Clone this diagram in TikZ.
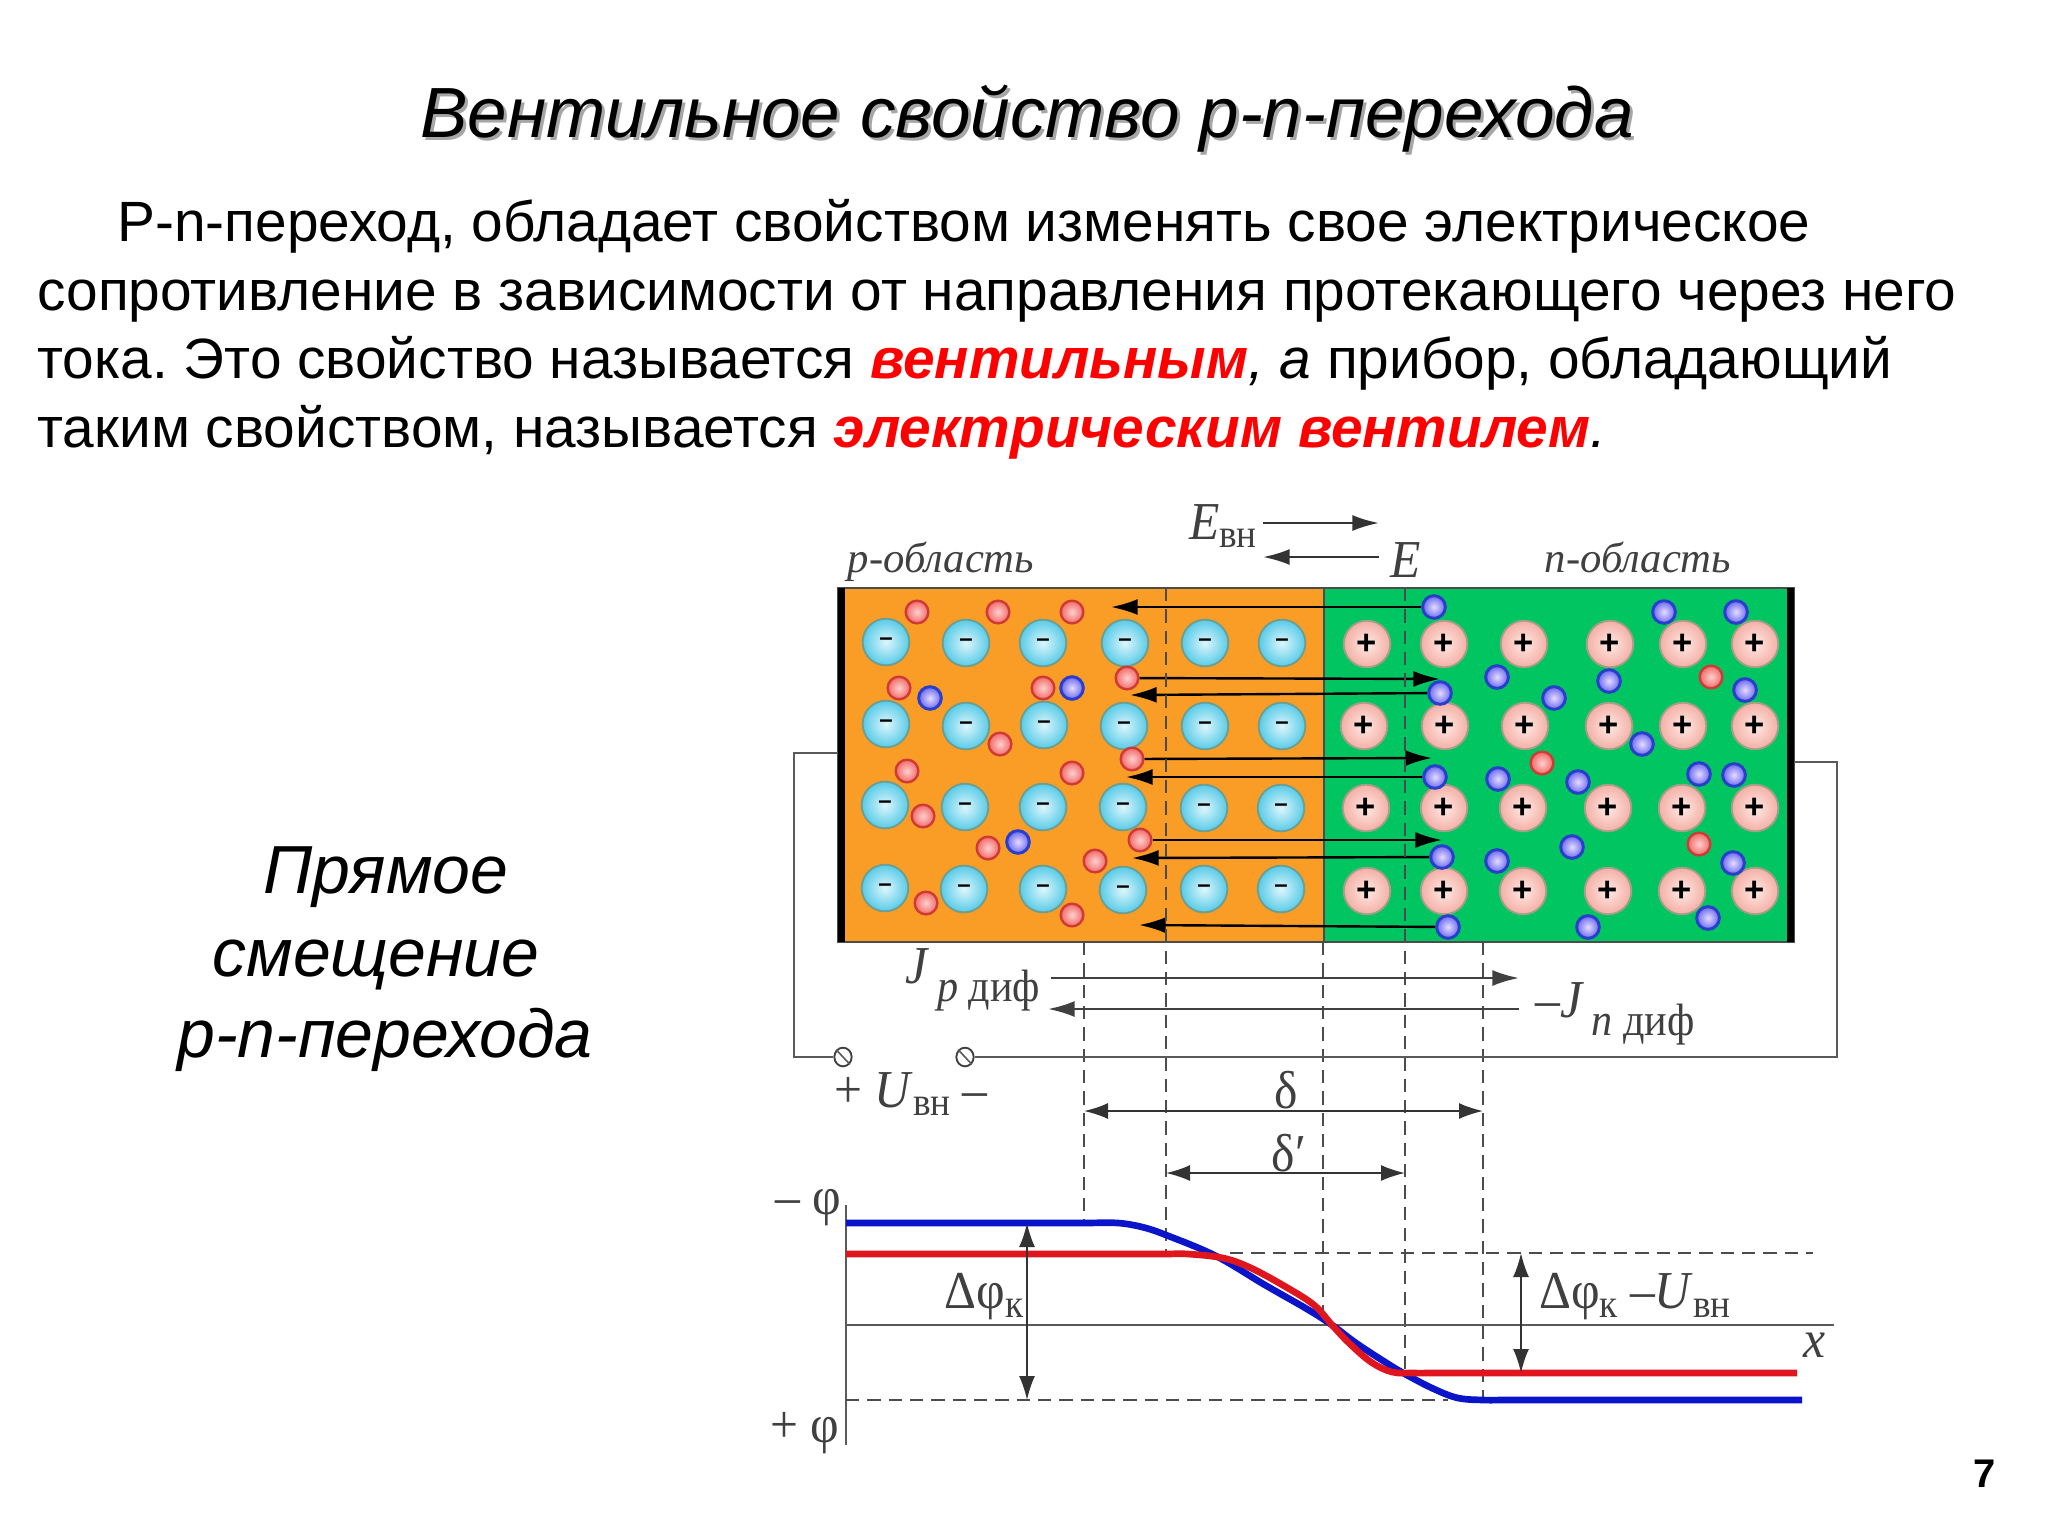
\documentclass[tikz,border=0pt]{standalone}
\usepackage{fontspec}
\setmainfont{Liberation Sans}
\newfontfamily\labfont[FakeStretch=0.93]{Liberation Serif}
\usetikzlibrary{arrows.meta,shapes.geometric}
\definecolor{porange}{HTML}{F99D26}
\definecolor{ngreen}{HTML}{00C560}
\definecolor{redtxt}{HTML}{FF0000}
\definecolor{redline}{HTML}{E0161E}
\definecolor{blueline}{HTML}{0A14C8}
\definecolor{wirecol}{HTML}{5A5A5A}
\definecolor{negedge}{HTML}{6E9E90}
\definecolor{negin}{HTML}{DDF6FB}
\definecolor{negout}{HTML}{58CBE8}
\definecolor{posedge}{HTML}{A0A088}
\definecolor{posin}{HTML}{FFEAE4}
\definecolor{posout}{HTML}{F3AFA6}
\definecolor{holeedge}{HTML}{D03A34}
\definecolor{holein}{HTML}{FFD0CE}
\definecolor{holeout}{HTML}{F06A68}
\definecolor{elecedge}{HTML}{2A3ECC}
\definecolor{elecin}{HTML}{E4DCFF}
\definecolor{elecout}{HTML}{6A68F0}
\newcommand{\sbs}[1]{\raisebox{-0.35ex}{\fontsize{15}{15}\selectfont #1}}
\newcommand{\jsb}[2]{\raisebox{-0.75ex}{\fontsize{17}{17}\selectfont\,\textit{#1} #2}}
\frenchspacing
\begin{document}
\begin{tikzpicture}[x=0.375pt, y=-0.375pt,
	negion/.style = {draw=negedge, line width=0.7pt, circle, minimum size=17.5pt, inner sep=0pt, inner color=negin, outer color=negout, font=\bfseries\fontsize{9}{9}\selectfont},
	posion/.style = {draw=posedge, line width=0.7pt, circle, minimum size=17.5pt, inner sep=0pt, inner color=posin, outer color=posout, font=\bfseries\fontsize{13}{13}\selectfont},
	hole/.style = {draw=holeedge, line width=0.9pt, circle, minimum size=8.5pt, inner sep=0pt, inner color=holein, outer color=holeout},
	elec/.style = {draw=elecedge, line width=1.1pt, circle, minimum size=8.5pt, inner sep=0pt, inner color=elecin, outer color=elecout},
	flow/.style = {line width=0.9pt, -{Latex[length=10pt,width=6pt]}},
	wire/.style = {draw=wirecol, line width=0.9pt},
	guide/.style = {draw=black!70, line width=0.5pt, dash pattern=on 5pt off 3pt},
	dim/.style = {draw=black!80, line width=0.7pt, {Latex[length=9pt,width=6pt]}-{Latex[length=9pt,width=6pt]}},
	term/.style = {draw=black!75, line width=0.7pt, ellipse, minimum width=6.5pt, minimum height=7pt, inner sep=0pt},
	lab/.style = {inner sep=0pt, text=black!75, font=\labfont\fontsize{20}{20}\selectfont},
	obl/.style = {inner sep=0pt, text=black!75, font=\rmfamily\fontspec{Liberation Serif}\itshape\fontsize{16}{16}\selectfont},
	body/.style = {anchor=base west, inner sep=0pt, font=\fontsize{21.3}{26}\selectfont},
	bigtxt/.style = {anchor=base, inner sep=0pt, font=\itshape\fontsize{25.5}{27}\selectfont}]
	\path[use as bounding box, fill=white] (0,0) rectangle (2048,1536);
	\node[anchor=base, inner sep=0pt, text=black!35, font=\itshape\fontsize{26.65}{30}\selectfont] (shadow) at (1030,140) {Вентильное свойство р-n-перехода};
	\node[anchor=base, inner sep=0pt, font=\itshape\fontsize{26.65}{30}\selectfont] (title) at (1027,137) {Вентильное свойство р-n-перехода};
	\node[body] (line1) at (117,241) {Р-n-переход, обладает свойством изменять свое электрическое};
	\node[body] (line2) at (37,310) {сопротивление в зависимости от направления протекающего через него};
	\node[body] (line3) at (37,378) {тока. Это свойство называется {\color{redtxt}\bfseries\itshape вентильным}{\itshape, а} прибор, обладающий};
	\node[body] (line4) at (37,447) {таким свойством, называется {\color{redtxt}\bfseries\itshape электрическим вентилем}{\itshape .}};
	\node[bigtxt] (txt1) at (386,893) {Прямое};
	\node[bigtxt] (txt2) at (376,976) {смещение};
	\node[bigtxt] (txt3) at (385,1057) {р-n-перехода};
	\node[anchor=base, inner sep=0pt, font=\bfseries\fontsize{15}{15}\selectfont] (page) at (1985,1487) {7};
	\fill[porange] (838,588) rectangle (1324,942);
	\fill[ngreen] (1324,588) rectangle (1794,942);
	\draw[black!70, line width=0.7pt] (838,588) rectangle (1794,942);
	\draw[black!70, line width=0.6pt] (1324,588) -- (1324,942);
	\fill[black] (838,588) rectangle (845,942);
	\fill[black] (1787,588) rectangle (1794,942);
	\node[negion] (a11) at (886,642) {–};
	\node[negion] (a12) at (966,643) {–};
	\node[negion] (a13) at (1043,643) {–};
	\node[negion] (a14) at (1125,643) {–};
	\node[negion] (a15) at (1205,643) {–};
	\node[negion] (a16) at (1282,643) {–};
	\node[negion] (a21) at (886,724) {–};
	\node[negion] (a22) at (966,726) {–};
	\node[negion] (a23) at (1044,725) {–};
	\node[negion] (a24) at (1124,726) {–};
	\node[negion] (a25) at (1205,726) {–};
	\node[negion] (a26) at (1282,726) {–};
	\node[negion] (a31) at (885,805) {–};
	\node[negion] (a32) at (965,807) {–};
	\node[negion] (a33) at (1043,807) {–};
	\node[negion] (a34) at (1123,807) {–};
	\node[negion] (a35) at (1204,808) {–};
	\node[negion] (a36) at (1281,808) {–};
	\node[negion] (a41) at (885,888) {–};
	\node[negion] (a42) at (964,889) {–};
	\node[negion] (a43) at (1043,889) {–};
	\node[negion] (a44) at (1123,890) {–};
	\node[negion] (a45) at (1204,889) {–};
	\node[negion] (a46) at (1281,889) {–};
	\node[posion] (d11) at (1367,644) {+};
	\node[posion] (d12) at (1444,644) {+};
	\node[posion] (d13) at (1524,644) {+};
	\node[posion] (d14) at (1610,644) {+};
	\node[posion] (d15) at (1683,644) {+};
	\node[posion] (d16) at (1755,644) {+};
	\node[posion] (d21) at (1364,726) {+};
	\node[posion] (d22) at (1445,726) {+};
	\node[posion] (d23) at (1525,726) {+};
	\node[posion] (d24) at (1609,726) {+};
	\node[posion] (d25) at (1683,726) {+};
	\node[posion] (d26) at (1755,726) {+};
	\node[posion] (d31) at (1366,808) {+};
	\node[posion] (d32) at (1444,808) {+};
	\node[posion] (d33) at (1523,808) {+};
	\node[posion] (d34) at (1608,808) {+};
	\node[posion] (d35) at (1682,808) {+};
	\node[posion] (d36) at (1755,808) {+};
	\node[posion] (d41) at (1367,891) {+};
	\node[posion] (d42) at (1444,891) {+};
	\node[posion] (d43) at (1523,891) {+};
	\node[posion] (d44) at (1608,891) {+};
	\node[posion] (d45) at (1682,891) {+};
	\node[posion] (d46) at (1755,891) {+};
	\node[hole] (h1) at (917,612) {};
	\node[hole] (h2) at (998,612) {};
	\node[hole] (h3) at (1072,612) {};
	\node[hole] (h4) at (899,688) {};
	\node[hole] (h5) at (1043,688) {};
	\node[hole] (h6) at (1127,678) {};
	\node[hole] (h7) at (1000,744) {};
	\node[hole] (h8) at (1132,759) {};
	\node[hole] (h9) at (907,771) {};
	\node[hole] (h10) at (1072,773) {};
	\node[hole] (h11) at (923,816) {};
	\node[hole] (h12) at (1140,840) {};
	\node[hole] (h13) at (988,848) {};
	\node[hole] (h14) at (1095,861) {};
	\node[hole] (h15) at (926,903) {};
	\node[hole] (h16) at (1072,915) {};
	\node[hole] (h17) at (1711,677) {};
	\node[hole] (h18) at (1542,763) {};
	\node[hole] (h19) at (1699,844) {};
	\node[elec] (e1) at (930,698) {};
	\node[elec] (e2) at (1072,688) {};
	\node[elec] (e3) at (1018,842) {};
	\node[elec] (e4) at (1434,607) {};
	\node[elec] (e5) at (1664,612) {};
	\node[elec] (e6) at (1736,612) {};
	\node[elec] (e7) at (1497,677) {};
	\node[elec] (e8) at (1609,681) {};
	\node[elec] (e9) at (1440,693) {};
	\node[elec] (e10) at (1554,698) {};
	\node[elec] (e11) at (1745,690) {};
	\node[elec] (e12) at (1642,744) {};
	\node[elec] (e13) at (1435,777) {};
	\node[elec] (e14) at (1498,779) {};
	\node[elec] (e15) at (1578,782) {};
	\node[elec] (e16) at (1699,774) {};
	\node[elec] (e17) at (1734,775) {};
	\node[elec] (e18) at (1572,847) {};
	\node[elec] (e19) at (1442,857) {};
	\node[elec] (e20) at (1497,861) {};
	\node[elec] (e21) at (1733,863) {};
	\node[elec] (e22) at (1708,918) {};
	\node[elec] (e23) at (1448,927) {};
	\node[elec] (e24) at (1588,927) {};
	\coordinate (t1) at (1111,607);
	\coordinate (t2) at (1440,679);
	\coordinate (t3) at (1130,695);
	\coordinate (t4) at (1432,758);
	\coordinate (t5) at (1126,777);
	\coordinate (t6) at (1442,840);
	\coordinate (t7) at (1132,858);
	\coordinate (t8) at (1139,925);
	\draw[flow] (e4) -- (t1);
	\draw[flow] (h6) -- (t2);
	\draw[flow] (e9) -- (t3);
	\draw[flow] (h8) -- (t4);
	\draw[flow] (e13) -- (t5);
	\draw[flow] (h12) -- (t6);
	\draw[flow] (e19) -- (t7);
	\draw[flow] (e23) -- (t8);
	\node[obl] (pobl) at (941,562) {р-область};
	\node[obl] (nobl) at (1638,557) {n-область};
	\node[lab] (evn) at (1223,526) {\textit{E}\sbs{вн}};
	\node[lab] (efld) at (1406,560) {\textit{E}};
	\coordinate (f1) at (1263,523);
	\coordinate (f2) at (1379,523);
	\coordinate (f3) at (1379,557);
	\coordinate (f4) at (1263,557);
	\draw[flow, draw=black!80] (f1) -- (f2);
	\draw[flow, draw=black!80] (f3) -- (f4);
	\coordinate (g1a) at (1084,942);
	\coordinate (g1b) at (1084,1223);
	\coordinate (g2a) at (1166,588);
	\coordinate (g2b) at (1166,1253);
	\coordinate (g3a) at (1323,942);
	\coordinate (g3b) at (1323,1316);
	\coordinate (g4a) at (1405,588);
	\coordinate (g4b) at (1405,1373);
	\coordinate (g5a) at (1483,942);
	\coordinate (g5b) at (1483,1400);
	\draw[guide] (g1a) -- (g1b);
	\draw[guide] (g2a) -- (g2b);
	\draw[guide] (g3a) -- (g3b);
	\draw[guide] (g4a) -- (g4b);
	\draw[guide] (g5a) -- (g5b);
	\coordinate (w1) at (838,753);
	\coordinate (w2) at (794,753);
	\coordinate (w3) at (794,1057);
	\coordinate (w4) at (1837,1057);
	\coordinate (w5) at (1837,762);
	\coordinate (w6) at (1794,762);
	\node[term] (s1) at (843,1057) {};
	\node[term] (s2) at (965,1057) {};
	\draw[wire] (w1) -- (w2) -- (w3) -- (s1);
	\draw[wire] (s2) -- (w4) -- (w5) -- (w6);
	\draw[wire, line width=0.6pt] (s1.north west) -- (s1.south east);
	\draw[wire, line width=0.6pt] (s2.north west) -- (s2.south east);
	\node[lab] (uvn) at (911,1094) {+ \textit{U}\sbs{вн} –};
	\coordinate (j1) at (1051,978);
	\coordinate (j2) at (1519,978);
	\coordinate (j3) at (1519,1009);
	\coordinate (j4) at (1048,1009);
	\draw[flow, draw=black!75] (j1) -- (j2);
	\draw[flow, draw=black!75] (j3) -- (j4);
	\node[lab, anchor=base west] (jp) at (905,983) {\textit{J}\jsb{p}{диф}};
	\node[lab, anchor=base west] (jn) at (1535,1017) {–\textit{J}\jsb{n}{диф}};
	\node[lab] (delta) at (1286,1090) {δ};
	\node[lab] (deltap) at (1289,1153) {δ′};
	\coordinate (c1) at (1084,1111);
	\coordinate (c2) at (1483,1111);
	\coordinate (c3) at (1166,1173);
	\coordinate (c4) at (1405,1173);
	\draw[dim] (c1) -- (c2);
	\draw[dim] (c3) -- (c4);
	\coordinate (y1) at (846,1205);
	\coordinate (y2) at (846,1445);
	\coordinate (x1) at (846,1325);
	\coordinate (x2) at (1834,1325);
	\draw[wire, line width=0.6pt] (y1) -- (y2);
	\draw[wire] (x1) -- (x2);
	\node[lab] (minusphi) at (808,1208) {– φ};
	\node[lab] (plusphi) at (805,1433) {+ φ};
	\node[lab] (xlab) at (1814,1345) {\textit{x}};
	\coordinate (b1) at (1230,1253);
	\coordinate (b2) at (1813,1253);
	\coordinate (b3) at (846,1400);
	\coordinate (b4) at (1448,1400);
	\draw[guide] (b1) -- (b2);
	\draw[guide] (b3) -- (b4);
	\draw[blueline, line width=2.5pt] (846,1223) -- plot[smooth, tension=0.6] coordinates {(1090,1223) (1118,1223) (1142,1227) (1166,1235) (1216,1256) (1265,1285) (1307,1309) (1332,1325) (1356,1343) (1385,1362) (1405,1374) (1434,1389) (1458,1398) (1483,1400) (1500,1400)} -- (1802,1400);
	\draw[redline, line width=2.5pt] (846,1254) -- plot[smooth, tension=0.6] coordinates {(1170,1254) (1188,1254) (1223,1258) (1251,1268) (1286,1287) (1314,1305) (1332,1325) (1349,1343) (1371,1362) (1392,1372) (1413,1373) (1430,1373)} -- (1797,1373);
	\coordinate (p1) at (1027,1223);
	\coordinate (p2) at (1027,1400);
	\coordinate (p3) at (1521,1253);
	\coordinate (p4) at (1521,1373);
	\draw[dim] (p1) -- (p2);
	\draw[dim] (p3) -- (p4);
	\node[lab] (dphi) at (984,1297) {Δφ\sbs{к}};
	\node[lab] (dphiu) at (1635,1297) {Δφ\sbs{к} –\textit{U}\sbs{вн}};
\end{tikzpicture}
\end{document}
